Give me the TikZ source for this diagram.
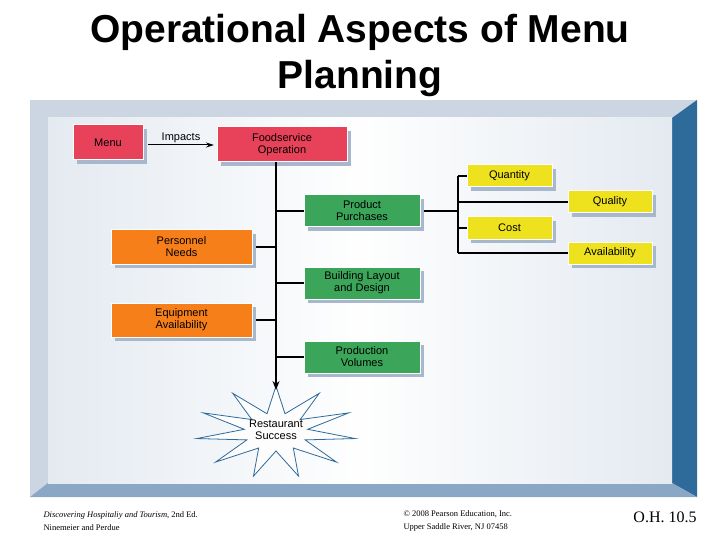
\documentclass[tikz,border=0pt]{standalone}
\usepackage{fontspec}
\setmainfont{Liberation Serif}
\setsansfont{Liberation Sans}
\usetikzlibrary{arrows.meta}
\definecolor{rd}{HTML}{E8415A}
\definecolor{gr}{HTML}{3BA55A}
\definecolor{og}{HTML}{F77F1A}
\definecolor{yl}{HTML}{EDE21D}
\definecolor{sh}{HTML}{A7B8CC}
\definecolor{panel}{HTML}{E4EAF1}
\definecolor{bev}{HTML}{CBD6E2}
\definecolor{bevb}{HTML}{8AA8C6}
\definecolor{dk}{HTML}{2E6A9A}
\tikzset{x=1pt,y=-1pt,
 bx/.style={fill=#1,draw=white,line width=1pt},
 tx/.style={font=\sffamily\fontsize{11}{12}\selectfont,align=center,inner sep=0pt},
 ln/.style={line width=1.5pt}}
\newcommand{\mybox}[6]{% name, x1,y1,x2,y2,color
 \fill[sh] (#2+4,#3+4) rectangle (#4+4,#5+4);
 \path[bx=#6] (#2,#3) rectangle (#4,#5);
 \node[inner sep=0pt,minimum width=#4-#2,minimum height=#5-#3] (#1) at ({(#2+#4)/2},{(#3+#5)/2}) {};}
\begin{document}
\begin{tikzpicture}
\useasboundingbox (0,0) rectangle (720,540);
\fill[white] (0,0) rectangle (720,540);
\node[font=\sffamily\bfseries\fontsize{39}{40}\selectfont] (t1) at (360,32) {Operational Aspects of Menu};
\node[font=\sffamily\bfseries\fontsize{39}{40}\selectfont] (t2) at (360,79) {Planning};
% frame
\fill[bev] (30,100) rectangle (697,497);
\fill[dk] (672,118) -- (697,100) -- (697,497) -- (672,483) -- cycle;
\fill[bevb] (30,497) -- (48,483) -- (672,483) -- (697,497) -- cycle;
\fill[left color=panel,right color=panel,middle color=white!97!panel] (48,118) rectangle (672,483);
% boxes
\mybox{menu}{73}{125}{143}{160}{rd}
\mybox{food}{217}{127}{347}{162}{rd}
\mybox{pp}{304}{195}{420}{227}{gr}
\mybox{pn}{111}{230}{252}{264}{og}
\mybox{bl}{304}{267}{420}{299}{gr}
\mybox{ea}{111}{303}{252}{337}{og}
\mybox{pv}{304}{341}{420}{373}{gr}
\mybox{qn}{467}{165}{552}{187}{yl}
\mybox{ql}{568}{191}{652}{213}{yl}
\mybox{cs}{467}{217}{552}{239}{yl}
\mybox{av}{568}{242}{652}{264}{yl}
\begin{scope}[tx]
\node at (menu) {Menu};
\node at (food) {Foodservice\\Operation};
\node at (pp) {Product\\Purchases};
\node at (pn) {Personnel\\Needs};
\node at (bl) {Building Layout\\and Design};
\node at (ea) {Equipment\\Availability};
\node at (pv) {Production\\Volumes};
\node at (qn) {Quantity};
\node at (ql) {Quality};
\node at (cs) {Cost};
\node at (av) {Availability};
\end{scope}
% star
\draw[draw=dk,line width=0.8pt,fill=white!92!panel] plot[samples at={0,...,21}] ({276+(mod(\x,2)==0?80:32)*sin(\x*360/22)},{432-(mod(\x,2)==0?46:19)*cos(\x*360/22)}) -- cycle;
\node[tx] (rs) at (276,430) {Restaurant\\Success};
% connectors
\coordinate (top) at (276,162);
\coordinate (st) at (276,390);
\coordinate (ma) at (148,145);
\coordinate (fa) at (214,145);
\draw[line width=1pt,-{Stealth[length=8pt,width=5pt]}] (ma) -- (fa) node[midway,above=2pt,tx] {Impacts};
\draw[ln,-{Stealth[length=9pt,width=7pt]}] (top) -- (st);
\draw[ln] (pp.west) -- (276,211);
\draw[ln] (bl.west) -- (276,283);
\draw[ln] (pv.west) -- (276,357);
\draw[ln] ([xshift=4pt]pn.east) -- (276,247);
\draw[ln] ([xshift=4pt]ea.east) -- (276,320);
\draw[ln] ([xshift=4pt]pp.east) -- (458,211);
\draw[ln] (458,176) -- (458,253);
\draw[ln] (qn.west) -- (458,176);
\draw[ln] (ql.west) -- (458,202);
\draw[ln] (cs.west) -- (458,228);
\draw[ln] (av.west) -- (458,253);
% footer
\node[anchor=west,font=\fontsize{8.5}{13}\selectfont,align=left] (f1) at (40,521) {\textit{Discovering Hospitaliy and Tourism}, 2nd Ed.\\Ninemeier and Perdue};
\node[anchor=west,font=\fontsize{8.5}{13}\selectfont,align=left] (f2) at (400,521) {© 2008 Pearson Education, Inc.\\Upper Saddle River, NJ 07458};
\node[font=\fontsize{16}{18}\selectfont] (f3) at (665,517) {O.H. 10.5};
\end{tikzpicture}
\end{document}
